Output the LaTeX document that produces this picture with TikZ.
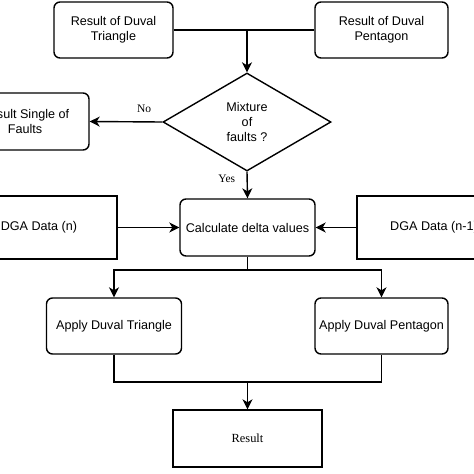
\documentclass[tikz,border=0pt]{standalone}
\usepackage{fontspec}
\setmainfont{Liberation Sans}
\newfontfamily\timesf{Liberation Serif}
\usetikzlibrary{shapes.geometric,arrows.meta}

\tikzset{
    rbox/.style={draw,line width=1.4pt,rounded corners=6pt,align=center,
        font=\fontsize{12.6}{14.8}\selectfont,inner sep=2pt},
    sbox/.style={draw,line width=1.4pt,align=center,
        font=\fontsize{12.6}{14.8}\selectfont,inner sep=2pt},
    decide/.style={draw,diamond,line width=1.4pt,align=center,aspect=1.7,inner sep=0pt,
        font=\fontsize{12.6}{15.2}\selectfont},
    arr/.style={line width=1.4pt,-{Stealth[length=10pt,width=10pt,inset=3pt]}},
    ln/.style={line width=1.4pt},
    lab/.style={font=\timesf\fontsize{11.5}{13}\selectfont}
}

\begin{document}
\begin{tikzpicture}[x=1pt,y=-1pt]
    \useasboundingbox (0,0) rectangle (474,474);
    \clip (0,0) rectangle (474,474);

    % results of the two methods
    \node[rbox,minimum width=119pt,minimum height=56pt] (tri) at (113.5,30) {Result of Duval\\Triangle};
    \node[rbox,minimum width=133pt,minimum height=56pt] (pen) at (381.5,30) {Result of Duval\\Pentagon};

    % decision
    \node[decide,minimum width=168pt,minimum height=98pt] (mix) at (247,122) {Mixture\\of\\faults ?};
    \node[rbox,minimum width=128pt,minimum height=57pt] (single) at (25,121.5) {Result Single of\\Faults};

    % delta values
    \node[rbox,minimum width=135pt,minimum height=57pt] (calc) at (247.5,227.5) {Calculate delta values};
    \node[sbox,minimum width=156pt,minimum height=63pt] (dgan) at (39,227.5) {DGA Data (n)};
    \node[sbox,minimum width=154pt,minimum height=63pt] (dgam) at (434,227.5) {DGA Data (n-1)};

    \node[rbox,minimum width=135pt,minimum height=56pt] (atri) at (114,326) {Apply Duval Triangle};
    \node[rbox,minimum width=133pt,minimum height=56pt] (apen) at (381.5,326) {Apply Duval Pentagon};

    \node[sbox,minimum width=149pt,minimum height=57pt,font=\timesf\fontsize{12.4}{14}\selectfont] (res) at (247.5,438.5) {Result};

    % connectors
    \coordinate (jtop) at (mix |- tri);
    \coordinate (jsplit) at (247.5,270);
    \coordinate (jmerge) at (247.5,382);

    \draw[ln] (tri) -- (pen);
    \draw[arr] (jtop) -- (mix.north);
    \draw[arr] (mix.west) -- (single.east) node[lab,pos=0.25,above=5pt]{No};
    \draw[arr] (mix.south) -- (calc.north) node[lab,pos=0.25,left=8pt]{Yes};
    \draw[arr] (dgan) -- (calc);
    \draw[arr] (dgam) -- (calc);
    \draw[ln] (calc) -- (jsplit);
    \draw[arr] (jsplit) -| (atri.north);
    \draw[arr] (jsplit) -| (apen.north);
    \draw[ln] (atri.south) |- (jmerge) -| (apen.south);
    \draw[arr] (jmerge) -- (res.north);
\end{tikzpicture}
\end{document}
